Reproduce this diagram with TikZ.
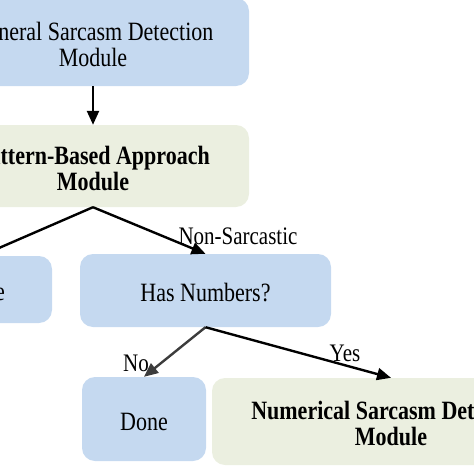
\documentclass[tikz,border=0pt]{standalone}
\usepackage{fontspec}
\usepackage{graphicx}
\setmainfont{Liberation Serif}
\usetikzlibrary{arrows.meta}
\definecolor{boxblue}{RGB}{197,217,240}
\definecolor{boxgreen}{RGB}{235,239,224}
\definecolor{arrowgray}{RGB}{60,60,60}
\newcommand\vtext[1]{\raisebox{-6pt}[\height][\depth]{\scalebox{1}[1.2]{\begin{tabular}{@{}c@{}}#1\end{tabular}}}}
\newcommand\vlbl[1]{\scalebox{1}[1.2]{#1}}
\tikzset{
  bluebox/.style={fill=boxblue, draw=none, rounded corners=13pt, align=center,
    font=\fontsize{22}{21}\selectfont, inner sep=0pt},
  greenbox/.style={fill=boxgreen, draw=none, rounded corners=13pt, align=center,
    font=\fontsize{22}{21}\selectfont\bfseries, inner sep=0pt},
  conn/.style={line width=2.4pt, -{Triangle[length=14pt,width=12pt]}},
  lbl/.style={font=\fontsize{21}{20}\selectfont, inner sep=0pt}
}
\begin{document}
\begin{tikzpicture}[x=1pt,y=1pt]
\useasboundingbox (0,0) rectangle (474,-474);
\clip (0,0) rectangle (474,-474);
\node[bluebox, minimum width=312pt, minimum height=88pt] (gen) at (93,-42) {\vtext{General Sarcasm Detection\\Module}};
\node[greenbox, minimum width=312pt, minimum height=82pt] (pat) at (93,-166) {\vtext{Pattern-Based Approach\\Module}};
\node[bluebox, minimum width=142pt, minimum height=67pt] (lbox) at (-19,-289.5) {\vtext{Done}};
\node[bluebox, minimum width=251pt, minimum height=73pt] (has) at (205.5,-290.5) {\vtext{Has Numbers?}};
\node[bluebox, minimum width=124pt, minimum height=84pt] (done) at (144,-419) {\vtext{Done}};
\node[greenbox, minimum width=358pt, minimum height=87pt] (num) at (391,-421.5) {\vtext{Numerical Sarcasm Detection\\Module}};
\draw[conn] (gen.south) -- (pat.north);
\draw[conn] (pat.south) -- (lbox.north);
\draw[conn] (pat.south) -- (has.north);
\draw[conn, draw=arrowgray, fill=arrowgray] (has.south) -- (done.north);
\draw[conn] (has.south) -- (num.north);
\node[lbl] (ns) at (238,-236) {\vlbl{Non-Sarcastic}};
\node[lbl] (yes) at (345,-353) {\vlbl{Yes}};
\node[lbl] (no) at (136,-363) {\vlbl{No}};
\end{tikzpicture}
\end{document}
